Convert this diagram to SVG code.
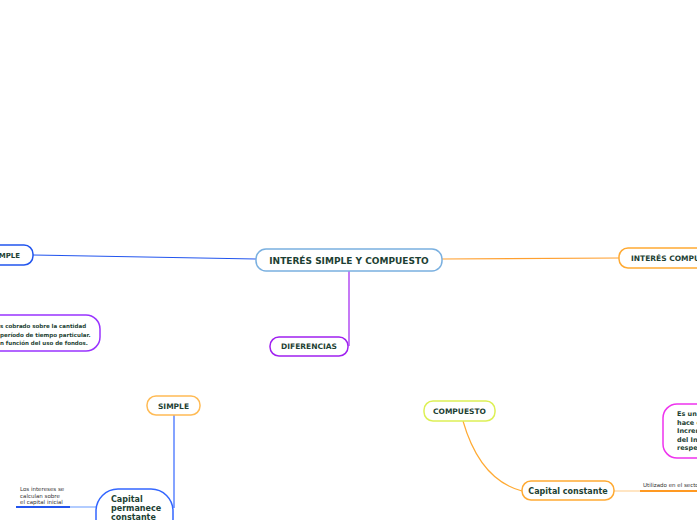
<svg xmlns="http://www.w3.org/2000/svg" width="697" height="520" viewBox="0 0 697 520">
<style>
text{font-family:Verdana,"DejaVu Sans",sans-serif;font-weight:bold;fill:#1d3f33}
.n{fill:#fff;stroke-width:1.5}
.s{font-size:7.5px}
.t{font-size:5.5px;font-weight:normal;fill:#333}
.c{fill:none;stroke-width:1.2}
</style>
<rect width="697" height="520" fill="#fff"/>
<g id="connectors">
<path class="c" d="M33,255 L256,259" stroke="#2255ee"/>
<path class="c" d="M442,259 L619,258" stroke="#ffa030"/>
<path class="c" d="M349,271 L349,346" stroke="#a020f0" stroke-width="1.6"/>
<path class="c" d="M174,415 L174,508" stroke="#3366ff" stroke-width="1.8"/>
<path class="c" d="M96,507 L16,507" stroke="#6699ff"/>
<path d="M16,507 L70,507" stroke="#2255ee" stroke-width="2"/>
<path class="c" d="M463,421 Q480,480 522,491" stroke="#ffaa33"/>
<path class="c" d="M614,491 L697,491" stroke="#ffcc88"/>
<path d="M640,491 L697,491" stroke="#ff9922" stroke-width="2"/>
</g>
<g id="central"><rect class="n" x="256" y="249" width="186" height="22" rx="10" stroke="#7ab0e0"/><text x="349" y="264" text-anchor="middle" font-size="9" fill="#333">INTERÉS SIMPLE Y COMPUESTO</text></g>
<g id="simple-left"><rect class="n" x="-40" y="245" width="73" height="20" rx="9" stroke="#2255ee"/><text x="20" y="258" text-anchor="end" font-size="7" font-weight="normal">SIMPLE</text></g>
<g id="def"><rect class="n" x="-40" y="315" width="140" height="36" rx="14" stroke="#9933ff"/>
<text font-size="5.5"><tspan x="0" y="328">s cobrado sobre la cantidad</tspan><tspan x="0" y="337">período de tiempo particular.</tspan><tspan x="0" y="345">n función del uso de fondos.</tspan></text></g>
<g id="compuesto-right"><rect class="n" x="619" y="248" width="120" height="20" rx="9" stroke="#ffaa33"/><text x="631" y="261" font-size="7.5">INTERÉS COMPUESTO</text></g>
<g id="diferencias"><rect class="n" x="270" y="337" width="78" height="19" rx="9" stroke="#a020f0"/><text class="s" x="309" y="349" text-anchor="middle">DIFERENCIAS</text></g>
<g id="simple"><rect class="n" x="147" y="396" width="53" height="19" rx="9" stroke="#ffbb55"/><text class="s" x="173.5" y="409" text-anchor="middle">SIMPLE</text></g>
<g id="capital-perm"><rect class="n" x="96" y="489" width="77" height="52" rx="22" stroke="#3366ff"/>
<text font-size="8"><tspan x="111" y="502">Capital</tspan><tspan x="111" y="511">permanece</tspan><tspan x="111" y="520">constante</tspan></text></g>
<g id="nota-simple"><text class="t"><tspan x="20" y="491">Los intereses se</tspan><tspan x="20" y="498">calculan sobre</tspan><tspan x="20" y="504">el capital inicial</tspan></text></g>
<g id="compuesto"><rect class="n" x="424" y="401" width="71" height="20" rx="9" stroke="#ddf055"/><text class="s" x="459.5" y="414" text-anchor="middle">COMPUESTO</text></g>
<g id="capital-const"><rect class="n" x="522" y="481" width="92" height="19" rx="9" stroke="#ffaa33"/><text x="568" y="494" text-anchor="middle" font-size="8">Capital constante</text></g>
<g id="nota-comp"><text class="t" x="643" y="487">Utilizado en el sector</text></g>
<g id="desc"><rect class="n" x="663" y="404" width="70" height="54" rx="14" stroke="#ee33ee"/>
<text font-size="6.5"><tspan x="677" y="416">Es un</tspan><tspan x="677" y="424.5">hace c</tspan><tspan x="677" y="433">Incren</tspan><tspan x="677" y="441.5">del Int</tspan><tspan x="677" y="450">respec</tspan></text></g>
</svg>
